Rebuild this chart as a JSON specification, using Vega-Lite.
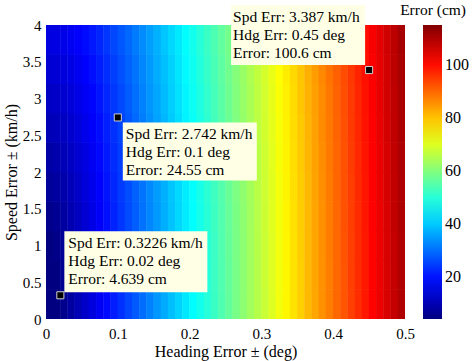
{
"$schema":"https://vega.github.io/schema/vega-lite/v6.json",
"width":359,"height":294,
"autosize":"none",
"padding":{"left":46,"top":25,"right":69,"bottom":42},
"background":"white",
"config":{"view":{"stroke":null},"font":"Liberation Serif",
"axis":{"labelFont":"Liberation Serif","labelFontSize":15,"labelColor":"black","titleFont":"Liberation Serif","titleFontSize":16,"titleFontWeight":"normal","titleColor":"black","ticks":false,"domain":false,"grid":false,"format":"~g","labelFlush":false,"labelOverlap":false},
"legend":{"labelFont":"Liberation Serif","labelFontSize":16,"labelColor":"black"}},
"title":{"text":"Error (cm)","anchor":"end","frame":"group","dx":61,"offset":0,"dy":25,"baseline":"alphabetic","fontSize":15.5,"fontWeight":"normal","font":"Liberation Serif","color":"black"},
"datasets":{
"tips":[
{"id":1,"h":0.45,"s":3.387,"label":"Spd Err: 3.387 km/h\nHdg Err: 0.45 deg\nError: 100.6 cm"},
{"id":2,"h":0.1,"s":2.742,"label":"Spd Err: 2.742 km/h\nHdg Err: 0.1 deg\nError: 24.55 cm"},
{"id":3,"h":0.02,"s":0.3226,"label":"Spd Err: 0.3226 km/h\nHdg Err: 0.02 deg\nError: 4.639 cm"}],
"grid":[
{"h":0.005,"s":0.2,"e":1.4},{"h":0.005,"s":0.6,"e":2.6},{"h":0.005,"s":1.0,"e":4.0},{"h":0.005,"s":1.4,"e":5.5},{"h":0.005,"s":1.8,"e":7.0},{"h":0.005,"s":2.2,"e":8.5},{"h":0.005,"s":2.6,"e":10.1},{"h":0.005,"s":3.0,"e":11.6},{"h":0.005,"s":3.4,"e":13.1},{"h":0.005,"s":3.8,"e":14.7},
{"h":0.015,"s":0.2,"e":3.4},{"h":0.015,"s":0.6,"e":4.0},{"h":0.015,"s":1.0,"e":5.1},{"h":0.015,"s":1.4,"e":6.3},{"h":0.015,"s":1.8,"e":7.7},{"h":0.015,"s":2.2,"e":9.1},{"h":0.015,"s":2.6,"e":10.5},{"h":0.015,"s":3.0,"e":12.0},{"h":0.015,"s":3.4,"e":13.5},{"h":0.015,"s":3.8,"e":15.0},
{"h":0.025,"s":0.2,"e":5.6},{"h":0.025,"s":0.6,"e":6.0},{"h":0.025,"s":1.0,"e":6.7},{"h":0.025,"s":1.4,"e":7.7},{"h":0.025,"s":1.8,"e":8.9},{"h":0.025,"s":2.2,"e":10.1},{"h":0.025,"s":2.6,"e":11.4},{"h":0.025,"s":3.0,"e":12.8},{"h":0.025,"s":3.4,"e":14.2},{"h":0.025,"s":3.8,"e":15.6},
{"h":0.035,"s":0.2,"e":7.8},{"h":0.035,"s":0.6,"e":8.1},{"h":0.035,"s":1.0,"e":8.7},{"h":0.035,"s":1.4,"e":9.4},{"h":0.035,"s":1.8,"e":10.4},{"h":0.035,"s":2.2,"e":11.5},{"h":0.035,"s":2.6,"e":12.7},{"h":0.035,"s":3.0,"e":13.9},{"h":0.035,"s":3.4,"e":15.2},{"h":0.035,"s":3.8,"e":16.6},
{"h":0.045,"s":0.2,"e":10.0},{"h":0.045,"s":0.6,"e":10.2},{"h":0.045,"s":1.0,"e":10.7},{"h":0.045,"s":1.4,"e":11.3},{"h":0.045,"s":1.8,"e":12.1},{"h":0.045,"s":2.2,"e":13.1},{"h":0.045,"s":2.6,"e":14.1},{"h":0.045,"s":3.0,"e":15.3},{"h":0.045,"s":3.4,"e":16.5},{"h":0.045,"s":3.8,"e":17.7},
{"h":0.055,"s":0.2,"e":12.2},{"h":0.055,"s":0.6,"e":12.4},{"h":0.055,"s":1.0,"e":12.8},{"h":0.055,"s":1.4,"e":13.3},{"h":0.055,"s":1.8,"e":14.0},{"h":0.055,"s":2.2,"e":14.8},{"h":0.055,"s":2.6,"e":15.8},{"h":0.055,"s":3.0,"e":16.8},{"h":0.055,"s":3.4,"e":17.9},{"h":0.055,"s":3.8,"e":19.0},
{"h":0.065,"s":0.2,"e":14.4},{"h":0.065,"s":0.6,"e":14.6},{"h":0.065,"s":1.0,"e":14.9},{"h":0.065,"s":1.4,"e":15.4},{"h":0.065,"s":1.8,"e":16.0},{"h":0.065,"s":2.2,"e":16.7},{"h":0.065,"s":2.6,"e":17.5},{"h":0.065,"s":3.0,"e":18.5},{"h":0.065,"s":3.4,"e":19.5},{"h":0.065,"s":3.8,"e":20.5},
{"h":0.075,"s":0.2,"e":16.6},{"h":0.075,"s":0.6,"e":16.8},{"h":0.075,"s":1.0,"e":17.1},{"h":0.075,"s":1.4,"e":17.5},{"h":0.075,"s":1.8,"e":18.0},{"h":0.075,"s":2.2,"e":18.7},{"h":0.075,"s":2.6,"e":19.4},{"h":0.075,"s":3.0,"e":20.2},{"h":0.075,"s":3.4,"e":21.2},{"h":0.075,"s":3.8,"e":22.1},
{"h":0.085,"s":0.2,"e":18.9},{"h":0.085,"s":0.6,"e":19.0},{"h":0.085,"s":1.0,"e":19.2},{"h":0.085,"s":1.4,"e":19.6},{"h":0.085,"s":1.8,"e":20.1},{"h":0.085,"s":2.2,"e":20.7},{"h":0.085,"s":2.6,"e":21.3},{"h":0.085,"s":3.0,"e":22.1},{"h":0.085,"s":3.4,"e":22.9},{"h":0.085,"s":3.8,"e":23.9},
{"h":0.095,"s":0.2,"e":21.1},{"h":0.095,"s":0.6,"e":21.2},{"h":0.095,"s":1.0,"e":21.4},{"h":0.095,"s":1.4,"e":21.7},{"h":0.095,"s":1.8,"e":22.2},{"h":0.095,"s":2.2,"e":22.7},{"h":0.095,"s":2.6,"e":23.3},{"h":0.095,"s":3.0,"e":24.0},{"h":0.095,"s":3.4,"e":24.8},{"h":0.095,"s":3.8,"e":25.6},
{"h":0.105,"s":0.2,"e":23.3},{"h":0.105,"s":0.6,"e":23.4},{"h":0.105,"s":1.0,"e":23.6},{"h":0.105,"s":1.4,"e":23.9},{"h":0.105,"s":1.8,"e":24.3},{"h":0.105,"s":2.2,"e":24.8},{"h":0.105,"s":2.6,"e":25.3},{"h":0.105,"s":3.0,"e":26.0},{"h":0.105,"s":3.4,"e":26.7},{"h":0.105,"s":3.8,"e":27.5},
{"h":0.115,"s":0.2,"e":25.5},{"h":0.115,"s":0.6,"e":25.6},{"h":0.115,"s":1.0,"e":25.8},{"h":0.115,"s":1.4,"e":26.1},{"h":0.115,"s":1.8,"e":26.4},{"h":0.115,"s":2.2,"e":26.9},{"h":0.115,"s":2.6,"e":27.4},{"h":0.115,"s":3.0,"e":28.0},{"h":0.115,"s":3.4,"e":28.7},{"h":0.115,"s":3.8,"e":29.4},
{"h":0.125,"s":0.2,"e":27.7},{"h":0.125,"s":0.6,"e":27.8},{"h":0.125,"s":1.0,"e":28.0},{"h":0.125,"s":1.4,"e":28.2},{"h":0.125,"s":1.8,"e":28.6},{"h":0.125,"s":2.2,"e":29.0},{"h":0.125,"s":2.6,"e":29.5},{"h":0.125,"s":3.0,"e":30.0},{"h":0.125,"s":3.4,"e":30.6},{"h":0.125,"s":3.8,"e":31.3},
{"h":0.135,"s":0.2,"e":29.9},{"h":0.135,"s":0.6,"e":30.0},{"h":0.135,"s":1.0,"e":30.2},{"h":0.135,"s":1.4,"e":30.4},{"h":0.135,"s":1.8,"e":30.7},{"h":0.135,"s":2.2,"e":31.1},{"h":0.135,"s":2.6,"e":31.6},{"h":0.135,"s":3.0,"e":32.1},{"h":0.135,"s":3.4,"e":32.7},{"h":0.135,"s":3.8,"e":33.3},
{"h":0.145,"s":0.2,"e":32.2},{"h":0.145,"s":0.6,"e":32.2},{"h":0.145,"s":1.0,"e":32.4},{"h":0.145,"s":1.4,"e":32.6},{"h":0.145,"s":1.8,"e":32.9},{"h":0.145,"s":2.2,"e":33.2},{"h":0.145,"s":2.6,"e":33.7},{"h":0.145,"s":3.0,"e":34.2},{"h":0.145,"s":3.4,"e":34.7},{"h":0.145,"s":3.8,"e":35.3},
{"h":0.155,"s":0.2,"e":34.4},{"h":0.155,"s":0.6,"e":34.4},{"h":0.155,"s":1.0,"e":34.6},{"h":0.155,"s":1.4,"e":34.8},{"h":0.155,"s":1.8,"e":35.1},{"h":0.155,"s":2.2,"e":35.4},{"h":0.155,"s":2.6,"e":35.8},{"h":0.155,"s":3.0,"e":36.2},{"h":0.155,"s":3.4,"e":36.8},{"h":0.155,"s":3.8,"e":37.3},
{"h":0.165,"s":0.2,"e":36.6},{"h":0.165,"s":0.6,"e":36.7},{"h":0.165,"s":1.0,"e":36.8},{"h":0.165,"s":1.4,"e":37.0},{"h":0.165,"s":1.8,"e":37.2},{"h":0.165,"s":2.2,"e":37.5},{"h":0.165,"s":2.6,"e":37.9},{"h":0.165,"s":3.0,"e":38.4},{"h":0.165,"s":3.4,"e":38.8},{"h":0.165,"s":3.8,"e":39.4},
{"h":0.175,"s":0.2,"e":38.8},{"h":0.175,"s":0.6,"e":38.9},{"h":0.175,"s":1.0,"e":39.0},{"h":0.175,"s":1.4,"e":39.2},{"h":0.175,"s":1.8,"e":39.4},{"h":0.175,"s":2.2,"e":39.7},{"h":0.175,"s":2.6,"e":40.1},{"h":0.175,"s":3.0,"e":40.5},{"h":0.175,"s":3.4,"e":40.9},{"h":0.175,"s":3.8,"e":41.5},
{"h":0.185,"s":0.2,"e":41.0},{"h":0.185,"s":0.6,"e":41.1},{"h":0.185,"s":1.0,"e":41.2},{"h":0.185,"s":1.4,"e":41.4},{"h":0.185,"s":1.8,"e":41.6},{"h":0.185,"s":2.2,"e":41.9},{"h":0.185,"s":2.6,"e":42.2},{"h":0.185,"s":3.0,"e":42.6},{"h":0.185,"s":3.4,"e":43.0},{"h":0.185,"s":3.8,"e":43.5},
{"h":0.195,"s":0.2,"e":43.2},{"h":0.195,"s":0.6,"e":43.3},{"h":0.195,"s":1.0,"e":43.4},{"h":0.195,"s":1.4,"e":43.6},{"h":0.195,"s":1.8,"e":43.8},{"h":0.195,"s":2.2,"e":44.1},{"h":0.195,"s":2.6,"e":44.4},{"h":0.195,"s":3.0,"e":44.7},{"h":0.195,"s":3.4,"e":45.2},{"h":0.195,"s":3.8,"e":45.6},
{"h":0.205,"s":0.2,"e":45.5},{"h":0.205,"s":0.6,"e":45.5},{"h":0.205,"s":1.0,"e":45.6},{"h":0.205,"s":1.4,"e":45.8},{"h":0.205,"s":1.8,"e":46.0},{"h":0.205,"s":2.2,"e":46.2},{"h":0.205,"s":2.6,"e":46.5},{"h":0.205,"s":3.0,"e":46.9},{"h":0.205,"s":3.4,"e":47.3},{"h":0.205,"s":3.8,"e":47.7},
{"h":0.215,"s":0.2,"e":47.7},{"h":0.215,"s":0.6,"e":47.7},{"h":0.215,"s":1.0,"e":47.8},{"h":0.215,"s":1.4,"e":48.0},{"h":0.215,"s":1.8,"e":48.2},{"h":0.215,"s":2.2,"e":48.4},{"h":0.215,"s":2.6,"e":48.7},{"h":0.215,"s":3.0,"e":49.0},{"h":0.215,"s":3.4,"e":49.4},{"h":0.215,"s":3.8,"e":49.9},
{"h":0.225,"s":0.2,"e":49.9},{"h":0.225,"s":0.6,"e":49.9},{"h":0.225,"s":1.0,"e":50.0},{"h":0.225,"s":1.4,"e":50.2},{"h":0.225,"s":1.8,"e":50.4},{"h":0.225,"s":2.2,"e":50.6},{"h":0.225,"s":2.6,"e":50.9},{"h":0.225,"s":3.0,"e":51.2},{"h":0.225,"s":3.4,"e":51.6},{"h":0.225,"s":3.8,"e":52.0},
{"h":0.235,"s":0.2,"e":52.1},{"h":0.235,"s":0.6,"e":52.2},{"h":0.235,"s":1.0,"e":52.2},{"h":0.235,"s":1.4,"e":52.4},{"h":0.235,"s":1.8,"e":52.6},{"h":0.235,"s":2.2,"e":52.8},{"h":0.235,"s":2.6,"e":53.1},{"h":0.235,"s":3.0,"e":53.4},{"h":0.235,"s":3.4,"e":53.7},{"h":0.235,"s":3.8,"e":54.1},
{"h":0.245,"s":0.2,"e":54.3},{"h":0.245,"s":0.6,"e":54.4},{"h":0.245,"s":1.0,"e":54.5},{"h":0.245,"s":1.4,"e":54.6},{"h":0.245,"s":1.8,"e":54.8},{"h":0.245,"s":2.2,"e":55.0},{"h":0.245,"s":2.6,"e":55.2},{"h":0.245,"s":3.0,"e":55.5},{"h":0.245,"s":3.4,"e":55.9},{"h":0.245,"s":3.8,"e":56.3},
{"h":0.255,"s":0.2,"e":56.5},{"h":0.255,"s":0.6,"e":56.6},{"h":0.255,"s":1.0,"e":56.7},{"h":0.255,"s":1.4,"e":56.8},{"h":0.255,"s":1.8,"e":57.0},{"h":0.255,"s":2.2,"e":57.2},{"h":0.255,"s":2.6,"e":57.4},{"h":0.255,"s":3.0,"e":57.7},{"h":0.255,"s":3.4,"e":58.0},{"h":0.255,"s":3.8,"e":58.4},
{"h":0.265,"s":0.2,"e":58.8},{"h":0.265,"s":0.6,"e":58.8},{"h":0.265,"s":1.0,"e":58.9},{"h":0.265,"s":1.4,"e":59.0},{"h":0.265,"s":1.8,"e":59.2},{"h":0.265,"s":2.2,"e":59.4},{"h":0.265,"s":2.6,"e":59.6},{"h":0.265,"s":3.0,"e":59.9},{"h":0.265,"s":3.4,"e":60.2},{"h":0.265,"s":3.8,"e":60.5},
{"h":0.275,"s":0.2,"e":61.0},{"h":0.275,"s":0.6,"e":61.0},{"h":0.275,"s":1.0,"e":61.1},{"h":0.275,"s":1.4,"e":61.2},{"h":0.275,"s":1.8,"e":61.4},{"h":0.275,"s":2.2,"e":61.6},{"h":0.275,"s":2.6,"e":61.8},{"h":0.275,"s":3.0,"e":62.1},{"h":0.275,"s":3.4,"e":62.4},{"h":0.275,"s":3.8,"e":62.7},
{"h":0.285,"s":0.2,"e":63.2},{"h":0.285,"s":0.6,"e":63.2},{"h":0.285,"s":1.0,"e":63.3},{"h":0.285,"s":1.4,"e":63.4},{"h":0.285,"s":1.8,"e":63.6},{"h":0.285,"s":2.2,"e":63.8},{"h":0.285,"s":2.6,"e":64.0},{"h":0.285,"s":3.0,"e":64.2},{"h":0.285,"s":3.4,"e":64.5},{"h":0.285,"s":3.8,"e":64.9},
{"h":0.295,"s":0.2,"e":65.4},{"h":0.295,"s":0.6,"e":65.4},{"h":0.295,"s":1.0,"e":65.5},{"h":0.295,"s":1.4,"e":65.6},{"h":0.295,"s":1.8,"e":65.8},{"h":0.295,"s":2.2,"e":65.9},{"h":0.295,"s":2.6,"e":66.2},{"h":0.295,"s":3.0,"e":66.4},{"h":0.295,"s":3.4,"e":66.7},{"h":0.295,"s":3.8,"e":67.0},
{"h":0.305,"s":0.2,"e":67.6},{"h":0.305,"s":0.6,"e":67.7},{"h":0.305,"s":1.0,"e":67.7},{"h":0.305,"s":1.4,"e":67.8},{"h":0.305,"s":1.8,"e":68.0},{"h":0.305,"s":2.2,"e":68.1},{"h":0.305,"s":2.6,"e":68.4},{"h":0.305,"s":3.0,"e":68.6},{"h":0.305,"s":3.4,"e":68.9},{"h":0.305,"s":3.8,"e":69.2},
{"h":0.315,"s":0.2,"e":69.8},{"h":0.315,"s":0.6,"e":69.9},{"h":0.315,"s":1.0,"e":69.9},{"h":0.315,"s":1.4,"e":70.0},{"h":0.315,"s":1.8,"e":70.2},{"h":0.315,"s":2.2,"e":70.3},{"h":0.315,"s":2.6,"e":70.6},{"h":0.315,"s":3.0,"e":70.8},{"h":0.315,"s":3.4,"e":71.1},{"h":0.315,"s":3.8,"e":71.4},
{"h":0.325,"s":0.2,"e":72.1},{"h":0.325,"s":0.6,"e":72.1},{"h":0.325,"s":1.0,"e":72.2},{"h":0.325,"s":1.4,"e":72.3},{"h":0.325,"s":1.8,"e":72.4},{"h":0.325,"s":2.2,"e":72.6},{"h":0.325,"s":2.6,"e":72.7},{"h":0.325,"s":3.0,"e":73.0},{"h":0.325,"s":3.4,"e":73.2},{"h":0.325,"s":3.8,"e":73.5},
{"h":0.335,"s":0.2,"e":74.3},{"h":0.335,"s":0.6,"e":74.3},{"h":0.335,"s":1.0,"e":74.4},{"h":0.335,"s":1.4,"e":74.5},{"h":0.335,"s":1.8,"e":74.6},{"h":0.335,"s":2.2,"e":74.8},{"h":0.335,"s":2.6,"e":74.9},{"h":0.335,"s":3.0,"e":75.2},{"h":0.335,"s":3.4,"e":75.4},{"h":0.335,"s":3.8,"e":75.7},
{"h":0.345,"s":0.2,"e":76.5},{"h":0.345,"s":0.6,"e":76.5},{"h":0.345,"s":1.0,"e":76.6},{"h":0.345,"s":1.4,"e":76.7},{"h":0.345,"s":1.8,"e":76.8},{"h":0.345,"s":2.2,"e":77.0},{"h":0.345,"s":2.6,"e":77.1},{"h":0.345,"s":3.0,"e":77.4},{"h":0.345,"s":3.4,"e":77.6},{"h":0.345,"s":3.8,"e":77.9},
{"h":0.355,"s":0.2,"e":78.7},{"h":0.355,"s":0.6,"e":78.7},{"h":0.355,"s":1.0,"e":78.8},{"h":0.355,"s":1.4,"e":78.9},{"h":0.355,"s":1.8,"e":79.0},{"h":0.355,"s":2.2,"e":79.2},{"h":0.355,"s":2.6,"e":79.3},{"h":0.355,"s":3.0,"e":79.6},{"h":0.355,"s":3.4,"e":79.8},{"h":0.355,"s":3.8,"e":80.1},
{"h":0.365,"s":0.2,"e":80.9},{"h":0.365,"s":0.6,"e":81.0},{"h":0.365,"s":1.0,"e":81.0},{"h":0.365,"s":1.4,"e":81.1},{"h":0.365,"s":1.8,"e":81.2},{"h":0.365,"s":2.2,"e":81.4},{"h":0.365,"s":2.6,"e":81.5},{"h":0.365,"s":3.0,"e":81.7},{"h":0.365,"s":3.4,"e":82.0},{"h":0.365,"s":3.8,"e":82.2},
{"h":0.375,"s":0.2,"e":83.1},{"h":0.375,"s":0.6,"e":83.2},{"h":0.375,"s":1.0,"e":83.2},{"h":0.375,"s":1.4,"e":83.3},{"h":0.375,"s":1.8,"e":83.4},{"h":0.375,"s":2.2,"e":83.6},{"h":0.375,"s":2.6,"e":83.7},{"h":0.375,"s":3.0,"e":83.9},{"h":0.375,"s":3.4,"e":84.2},{"h":0.375,"s":3.8,"e":84.4},
{"h":0.385,"s":0.2,"e":85.4},{"h":0.385,"s":0.6,"e":85.4},{"h":0.385,"s":1.0,"e":85.4},{"h":0.385,"s":1.4,"e":85.5},{"h":0.385,"s":1.8,"e":85.6},{"h":0.385,"s":2.2,"e":85.8},{"h":0.385,"s":2.6,"e":85.9},{"h":0.385,"s":3.0,"e":86.1},{"h":0.385,"s":3.4,"e":86.4},{"h":0.385,"s":3.8,"e":86.6},
{"h":0.395,"s":0.2,"e":87.6},{"h":0.395,"s":0.6,"e":87.6},{"h":0.395,"s":1.0,"e":87.7},{"h":0.395,"s":1.4,"e":87.7},{"h":0.395,"s":1.8,"e":87.8},{"h":0.395,"s":2.2,"e":88.0},{"h":0.395,"s":2.6,"e":88.1},{"h":0.395,"s":3.0,"e":88.3},{"h":0.395,"s":3.4,"e":88.5},{"h":0.395,"s":3.8,"e":88.8},
{"h":0.405,"s":0.2,"e":89.8},{"h":0.405,"s":0.6,"e":89.8},{"h":0.405,"s":1.0,"e":89.9},{"h":0.405,"s":1.4,"e":90.0},{"h":0.405,"s":1.8,"e":90.1},{"h":0.405,"s":2.2,"e":90.2},{"h":0.405,"s":2.6,"e":90.3},{"h":0.405,"s":3.0,"e":90.5},{"h":0.405,"s":3.4,"e":90.7},{"h":0.405,"s":3.8,"e":91.0},
{"h":0.415,"s":0.2,"e":92.0},{"h":0.415,"s":0.6,"e":92.0},{"h":0.415,"s":1.0,"e":92.1},{"h":0.415,"s":1.4,"e":92.2},{"h":0.415,"s":1.8,"e":92.3},{"h":0.415,"s":2.2,"e":92.4},{"h":0.415,"s":2.6,"e":92.6},{"h":0.415,"s":3.0,"e":92.7},{"h":0.415,"s":3.4,"e":92.9},{"h":0.415,"s":3.8,"e":93.2},
{"h":0.425,"s":0.2,"e":94.2},{"h":0.425,"s":0.6,"e":94.3},{"h":0.425,"s":1.0,"e":94.3},{"h":0.425,"s":1.4,"e":94.4},{"h":0.425,"s":1.8,"e":94.5},{"h":0.425,"s":2.2,"e":94.6},{"h":0.425,"s":2.6,"e":94.8},{"h":0.425,"s":3.0,"e":94.9},{"h":0.425,"s":3.4,"e":95.1},{"h":0.425,"s":3.8,"e":95.4},
{"h":0.435,"s":0.2,"e":96.4},{"h":0.435,"s":0.6,"e":96.5},{"h":0.435,"s":1.0,"e":96.5},{"h":0.435,"s":1.4,"e":96.6},{"h":0.435,"s":1.8,"e":96.7},{"h":0.435,"s":2.2,"e":96.8},{"h":0.435,"s":2.6,"e":97.0},{"h":0.435,"s":3.0,"e":97.1},{"h":0.435,"s":3.4,"e":97.3},{"h":0.435,"s":3.8,"e":97.5},
{"h":0.445,"s":0.2,"e":98.7},{"h":0.445,"s":0.6,"e":98.7},{"h":0.445,"s":1.0,"e":98.7},{"h":0.445,"s":1.4,"e":98.8},{"h":0.445,"s":1.8,"e":98.9},{"h":0.445,"s":2.2,"e":99.0},{"h":0.445,"s":2.6,"e":99.2},{"h":0.445,"s":3.0,"e":99.3},{"h":0.445,"s":3.4,"e":99.5},{"h":0.445,"s":3.8,"e":99.7},
{"h":0.455,"s":0.2,"e":100.9},{"h":0.455,"s":0.6,"e":100.9},{"h":0.455,"s":1.0,"e":100.9},{"h":0.455,"s":1.4,"e":101.0},{"h":0.455,"s":1.8,"e":101.1},{"h":0.455,"s":2.2,"e":101.2},{"h":0.455,"s":2.6,"e":101.4},{"h":0.455,"s":3.0,"e":101.5},{"h":0.455,"s":3.4,"e":101.7},{"h":0.455,"s":3.8,"e":101.9},
{"h":0.465,"s":0.2,"e":103.1},{"h":0.465,"s":0.6,"e":103.1},{"h":0.465,"s":1.0,"e":103.2},{"h":0.465,"s":1.4,"e":103.2},{"h":0.465,"s":1.8,"e":103.3},{"h":0.465,"s":2.2,"e":103.4},{"h":0.465,"s":2.6,"e":103.6},{"h":0.465,"s":3.0,"e":103.7},{"h":0.465,"s":3.4,"e":103.9},{"h":0.465,"s":3.8,"e":104.1},
{"h":0.475,"s":0.2,"e":105.3},{"h":0.475,"s":0.6,"e":105.3},{"h":0.475,"s":1.0,"e":105.4},{"h":0.475,"s":1.4,"e":105.4},{"h":0.475,"s":1.8,"e":105.5},{"h":0.475,"s":2.2,"e":105.6},{"h":0.475,"s":2.6,"e":105.8},{"h":0.475,"s":3.0,"e":105.9},{"h":0.475,"s":3.4,"e":106.1},{"h":0.475,"s":3.8,"e":106.3},
{"h":0.485,"s":0.2,"e":107.5},{"h":0.485,"s":0.6,"e":107.5},{"h":0.485,"s":1.0,"e":107.6},{"h":0.485,"s":1.4,"e":107.7},{"h":0.485,"s":1.8,"e":107.7},{"h":0.485,"s":2.2,"e":107.9},{"h":0.485,"s":2.6,"e":108.0},{"h":0.485,"s":3.0,"e":108.1},{"h":0.485,"s":3.4,"e":108.3},{"h":0.485,"s":3.8,"e":108.5},
{"h":0.495,"s":0.2,"e":109.7},{"h":0.495,"s":0.6,"e":109.8},{"h":0.495,"s":1.0,"e":109.8},{"h":0.495,"s":1.4,"e":109.9},{"h":0.495,"s":1.8,"e":110.0},{"h":0.495,"s":2.2,"e":110.1},{"h":0.495,"s":2.6,"e":110.2},{"h":0.495,"s":3.0,"e":110.3},{"h":0.495,"s":3.4,"e":110.5},{"h":0.495,"s":3.8,"e":110.7}
]},
"layer":[
{"data":{"name":"grid"},
"mark":{"type":"rect","width":7.6,"height":30,"clip":true},
"encoding":{
"x":{"field":"h","type":"quantitative","scale":{"domain":[0,0.5],"nice":false,"zero":false},"axis":{"values":[0,0.1,0.2,0.3,0.4,0.5],"title":"Heading Error ± (deg)","labelPadding":7,"titlePadding":2,"labelOverlap":false}},
"y":{"field":"s","type":"quantitative","scale":{"domain":[0,4],"nice":false,"zero":false},"axis":{"values":[0,0.5,1,1.5,2,2.5,3,3.5,4],"title":"Speed Error ± (km/h)","labelPadding":5,"titlePadding":3,"labelOverlap":false,"labelBound":false,"tickCount":9}},
"color":{"field":"e","type":"quantitative","scale":{"type":"linear","domain":[4.2,18.05,45.75,73.45,101.15,115],"range":["#000080","#0000ff","#00ffff","#ffff00","#ff0000","#800000"],"interpolate":"rgb","clamp":true},
"legend":{"orient":"right","offset":18,"title":null,"gradientLength":294,"gradientThickness":19,"values":[20,40,60,80,100],"labelOffset":3,"padding":0,"gradientStrokeWidth":0,"direction":"vertical","labelOverlap":false}}}},
{"data":{"name":"tips"},"transform":[{"filter":"datum.id==1"}],
"mark":{"type":"rect","fill":"#ffffe6","xOffset":-138,"x2Offset":-4,"yOffset":-65,"y2Offset":-5},
"encoding":{"x":{"field":"h","type":"quantitative"},"x2":{"field":"h"},"y":{"field":"s","type":"quantitative"},"y2":{"field":"s"}}},
{"data":{"name":"tips"},"transform":[{"filter":"datum.id==2"}],
"mark":{"type":"rect","fill":"#ffffe6","xOffset":5,"x2Offset":139,"yOffset":5,"y2Offset":63},
"encoding":{"x":{"field":"h","type":"quantitative"},"x2":{"field":"h"},"y":{"field":"s","type":"quantitative"},"y2":{"field":"s"}}},
{"data":{"name":"tips"},"transform":[{"filter":"datum.id==3"}],
"mark":{"type":"rect","fill":"#ffffe6","xOffset":4,"x2Offset":147,"yOffset":-64,"y2Offset":-3},
"encoding":{"x":{"field":"h","type":"quantitative"},"x2":{"field":"h"},"y":{"field":"s","type":"quantitative"},"y2":{"field":"s"}}},
{"data":{"name":"tips"},"transform":[{"filter":"datum.id==1"}],
"mark":{"type":"text","align":"left","baseline":"top","dx":-136,"dy":-60,"fontSize":15.5,"font":"Liberation Serif","lineHeight":18,"lineBreak":"\n","color":"black"},
"encoding":{"x":{"field":"h","type":"quantitative"},"y":{"field":"s","type":"quantitative"},"text":{"field":"label"}}},
{"data":{"name":"tips"},"transform":[{"filter":"datum.id==2"}],
"mark":{"type":"text","align":"left","baseline":"top","dx":8,"dy":10,"fontSize":15.5,"font":"Liberation Serif","lineHeight":18,"lineBreak":"\n","color":"black"},
"encoding":{"x":{"field":"h","type":"quantitative"},"y":{"field":"s","type":"quantitative"},"text":{"field":"label"}}},
{"data":{"name":"tips"},"transform":[{"filter":"datum.id==3"}],
"mark":{"type":"text","align":"left","baseline":"top","dx":8,"dy":-59,"fontSize":15.5,"font":"Liberation Serif","lineHeight":18,"lineBreak":"\n","color":"black"},
"encoding":{"x":{"field":"h","type":"quantitative"},"y":{"field":"s","type":"quantitative"},"text":{"field":"label"}}},
{"data":{"name":"tips"},
"mark":{"type":"point","shape":"square","filled":true,"size":50,"fill":"black","stroke":"#d0d0d0","strokeWidth":1,"opacity":1},
"encoding":{"x":{"field":"h","type":"quantitative"},"y":{"field":"s","type":"quantitative"}}}
]
}
